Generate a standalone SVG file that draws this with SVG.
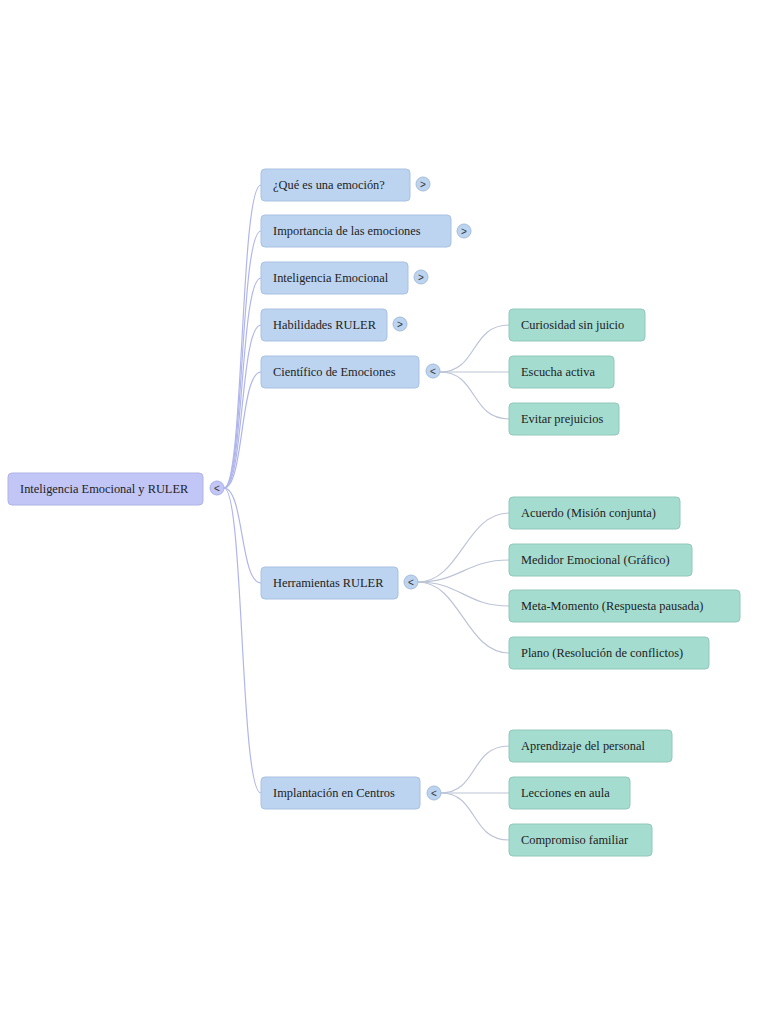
<svg xmlns="http://www.w3.org/2000/svg" width="768" height="1024" viewBox="0 0 768 1024">
<style>
.bg{fill:#ffffff}
.root rect{fill:#c2c6f6;stroke:#b0b4e6;stroke-width:1}
.l1 rect{fill:#bcd4f0;stroke:#a9c1e2;stroke-width:1}
.l2 rect{fill:#a4dccf;stroke:#90c8ba;stroke-width:1}
text{font-family:"Liberation Serif","Times New Roman",serif;font-size:12.4px;fill:#222}
.tg circle{fill:#bcd4f0;stroke:#a5bddc;stroke-width:1}
.tg.r circle{fill:#c2c6f6;stroke:#aab0e6}
.tg text{font-family:"Liberation Sans",Arial,sans-serif;font-size:10px;fill:#333;text-anchor:middle}
.c0 path{fill:none;stroke:#b0b6ea;stroke-width:1.2}
.c1 path{fill:none;stroke:#bcc4d6;stroke-width:1.2}
</style>
<rect class="bg" width="768" height="1024"/>
<g id="connectors">
<g class="c0">
<path d="M224 488 C244 488,240 185,261 185"/>
<path d="M224 488 C244 488,240 231,261 231"/>
<path d="M224 488 C244 488,240 278,261 278"/>
<path d="M224 488 C244 488,240 325,261 325"/>
<path d="M224 488 C244 488,240 372,261 372"/>
<path d="M224 488 C244 488,240 583,261 583"/>
<path d="M224 488 C244 488,240 793,261 793"/>
</g>
<g class="c1">
<path d="M440 372 C478 372,470 325,509 325"/>
<path d="M440 372 C478 372,470 372,509 372"/>
<path d="M440 372 C478 372,470 419,509 419"/>
<path d="M418 582 C460 582,466 513,509 513"/>
<path d="M418 582 C460 582,466 560,509 560"/>
<path d="M418 582 C460 582,466 606,509 606"/>
<path d="M418 582 C460 582,466 653,509 653"/>
<path d="M441 793 C478 793,470 746,509 746"/>
<path d="M441 793 C478 793,470 793,509 793"/>
<path d="M441 793 C478 793,470 840,509 840"/>
</g>
</g>
<g id="root" class="root"><rect x="8" y="473" width="195" height="32" rx="4"/><text x="20" y="493">Inteligencia Emocional y RULER</text></g>
<g id="root-toggle" class="tg r"><circle cx="217" cy="488" r="7"/><text x="217" y="492">&lt;</text></g>

<g id="n1" class="l1"><rect x="261" y="169" width="149" height="32" rx="4"/><text x="273" y="189">¿Qué es una emoción?</text></g>
<g id="n1-toggle" class="tg"><circle cx="423" cy="184" r="7"/><text x="423" y="188">&gt;</text></g>
<g id="n2" class="l1"><rect x="261" y="215" width="190" height="32" rx="4"/><text x="273" y="235">Importancia de las emociones</text></g>
<g id="n2-toggle" class="tg"><circle cx="464" cy="231" r="7"/><text x="464" y="235">&gt;</text></g>
<g id="n3" class="l1"><rect x="261" y="262" width="147" height="32" rx="4"/><text x="273" y="282">Inteligencia Emocional</text></g>
<g id="n3-toggle" class="tg"><circle cx="421" cy="277" r="7"/><text x="421" y="281">&gt;</text></g>
<g id="n4" class="l1"><rect x="261" y="309" width="126" height="32" rx="4"/><text x="273" y="329">Habilidades RULER</text></g>
<g id="n4-toggle" class="tg"><circle cx="400" cy="324" r="7"/><text x="400" y="328">&gt;</text></g>
<g id="n5" class="l1"><rect x="261" y="356" width="158" height="32" rx="4"/><text x="273" y="376">Científico de Emociones</text></g>
<g id="n5-toggle" class="tg"><circle cx="433" cy="371" r="7"/><text x="433" y="375">&lt;</text></g>
<g id="n6" class="l1"><rect x="261" y="567" width="137" height="32" rx="4"/><text x="273" y="587">Herramientas RULER</text></g>
<g id="n6-toggle" class="tg"><circle cx="411" cy="582" r="7"/><text x="411" y="586">&lt;</text></g>
<g id="n7" class="l1"><rect x="261" y="777" width="159" height="32" rx="4"/><text x="273" y="797">Implantación en Centros</text></g>
<g id="n7-toggle" class="tg"><circle cx="434" cy="793" r="7"/><text x="434" y="797">&lt;</text></g>

<g id="n5a" class="l2"><rect x="509" y="309" width="136" height="32" rx="4"/><text x="521" y="329">Curiosidad sin juicio</text></g>
<g id="n5b" class="l2"><rect x="509" y="356" width="105" height="32" rx="4"/><text x="521" y="376">Escucha activa</text></g>
<g id="n5c" class="l2"><rect x="509" y="403" width="110" height="32" rx="4"/><text x="521" y="423">Evitar prejuicios</text></g>
<g id="n6a" class="l2"><rect x="509" y="497" width="171" height="32" rx="4"/><text x="521" y="517">Acuerdo (Misión conjunta)</text></g>
<g id="n6b" class="l2"><rect x="509" y="544" width="183" height="32" rx="4"/><text x="521" y="564">Medidor Emocional (Gráfico)</text></g>
<g id="n6c" class="l2"><rect x="509" y="590" width="231" height="32" rx="4"/><text x="521" y="610">Meta-Momento (Respuesta pausada)</text></g>
<g id="n6d" class="l2"><rect x="509" y="637" width="200" height="32" rx="4"/><text x="521" y="657">Plano (Resolución de conflictos)</text></g>
<g id="n7a" class="l2"><rect x="509" y="730" width="163" height="32" rx="4"/><text x="521" y="750">Aprendizaje del personal</text></g>
<g id="n7b" class="l2"><rect x="509" y="777" width="121" height="32" rx="4"/><text x="521" y="797">Lecciones en aula</text></g>
<g id="n7c" class="l2"><rect x="509" y="824" width="143" height="32" rx="4"/><text x="521" y="844">Compromiso familiar</text></g>
</svg>
